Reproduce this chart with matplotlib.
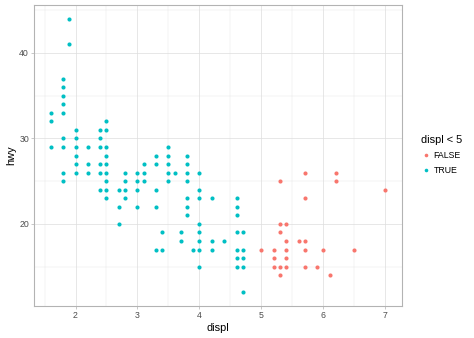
import numpy as np
import matplotlib.pyplot as plt
from matplotlib.lines import Line2D

# engine displacement (litres) and highway mileage, one entry per distinct point
displ = [1.6, 1.6, 1.6,
         1.8, 1.8, 1.8, 1.8, 1.8, 1.8, 1.8, 1.8, 1.8,
         1.9, 1.9,
         2.0, 2.0, 2.0, 2.0, 2.0, 2.0,
         2.2, 2.2, 2.2,
         2.4, 2.4, 2.4, 2.4, 2.4, 2.4,
         2.5, 2.5, 2.5, 2.5, 2.5, 2.5, 2.5, 2.5, 2.5,
         2.7, 2.7, 2.7,
         2.8, 2.8, 2.8, 2.8,
         3.0, 3.0, 3.0, 3.0,
         3.1, 3.1, 3.1,
         3.3, 3.3, 3.3, 3.3, 3.3,
         3.4, 3.4,
         3.5, 3.5, 3.5, 3.5, 3.5,
         3.6,
         3.7, 3.7,
         3.8, 3.8, 3.8, 3.8, 3.8, 3.8, 3.8,
         3.9,
         4.0, 4.0, 4.0, 4.0, 4.0, 4.0, 4.0, 4.0,
         4.2, 4.2, 4.2,
         4.4,
         4.6, 4.6, 4.6, 4.6, 4.6, 4.6, 4.6,
         4.7, 4.7, 4.7, 4.7, 4.7,
         5.0,
         5.2, 5.2, 5.2,
         5.3, 5.3, 5.3, 5.3, 5.3,
         5.4, 5.4, 5.4, 5.4, 5.4,
         5.6,
         5.7, 5.7, 5.7, 5.7, 5.7,
         5.9, 6.0, 6.1,
         6.2, 6.2,
         6.5, 7.0]
hwy = [33, 32, 29,
       37, 36, 35, 34, 33, 30, 29, 26, 25,
       44, 41,
       31, 30, 29, 28, 27, 26,
       29, 27, 26,
       31, 30, 29, 27, 26, 24,
       32, 31, 29, 28, 27, 26, 25, 24, 23,
       24, 22, 20,
       26, 25, 24, 23,
       26, 25, 24, 22,
       27, 26, 25,
       28, 27, 24, 22, 17,
       19, 17,
       29, 28, 27, 26, 25,
       26,
       19, 18,
       28, 27, 26, 25, 23, 22, 21,
       17,
       26, 24, 23, 20, 19, 18, 17, 15,
       23, 18, 17,
       18,
       23, 22, 21, 19, 17, 16, 15,
       19, 17, 16, 15, 12,
       17,
       17, 16, 15,
       25, 20, 19, 15, 14,
       20, 18, 17, 16, 15,
       18,
       26, 23, 18, 17, 15,
       15, 17, 14,
       26, 25,
       17, 24]

x_ticks = [2, 3, 4, 5, 6, 7]
y_ticks = [20, 30, 40]
x_minor = [1.5, 2.5, 3.5, 4.5, 5.5, 6.5]
y_minor = [15, 25, 35, 45]

col_false = '#F8766D'
col_true = '#00BFC4'

plt.rcParams['font.family'] = 'Liberation Sans'

displ = np.array(displ)
hwy = np.array(hwy)
small = displ < 5

fig = plt.figure(figsize=(474 / 72, 338 / 72), dpi=72)
ax = fig.add_axes([34 / 474, 32 / 338, 368 / 474, 301 / 338])

ax.scatter(displ[~small], hwy[~small], s=17, color=col_false, linewidths=0, zorder=3)
ax.scatter(displ[small], hwy[small], s=17, color=col_true, linewidths=0, zorder=3)

# ggplot-style 5% padding on both scales
xr = displ.max() - displ.min()
yr = hwy.max() - hwy.min()
ax.set_xlim(displ.min() - 0.05 * xr, displ.max() + 0.05 * xr)
ax.set_ylim(hwy.min() - 0.05 * yr, hwy.max() + 0.05 * yr)

ax.set_xticks(x_ticks)
ax.set_yticks(y_ticks)
ax.set_xticks(x_minor, minor=True)
ax.set_yticks(y_minor, minor=True)
ax.grid(True, which='major', color='#dedede', linewidth=0.7)
ax.grid(True, which='minor', color='#dedede', linewidth=0.35)
ax.set_axisbelow(True)
ax.tick_params(which='major', length=2.75, width=0.7, color='#b3b3b3',
               labelsize=8.8, labelcolor='#4d4d4d', pad=2.2)
ax.tick_params(which='minor', length=0)
for s in ax.spines.values():
    s.set_color('#b3b3b3')
    s.set_linewidth(1.1)

ax.set_xlabel('displ', fontsize=11, labelpad=3)
ax.set_ylabel('hwy', fontsize=11, labelpad=3)

handles = [Line2D([], [], marker='o', linestyle='', markersize=3.6,
                  markerfacecolor=c, markeredgewidth=0)
           for c in (col_false, col_true)]
leg = fig.legend(handles, ['FALSE', 'TRUE'], title='displ < 5',
                 loc='upper left', bbox_to_anchor=(415 / 474, 1 - 129 / 338),
                 frameon=False, fontsize=8.8, title_fontsize=11,
                 handlelength=1.0, handletextpad=0.4, labelspacing=0.7,
                 borderpad=0.2)
leg._legend_box.align = 'left'

fig.savefig('out.png', dpi=72)
